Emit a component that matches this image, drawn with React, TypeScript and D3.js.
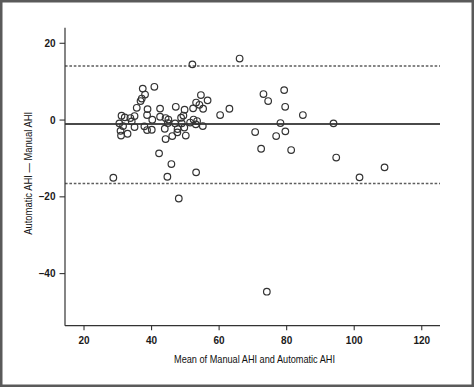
import React from "react";
import * as d3 from "d3";

const meanAHI: number[] = [
  30.46, 31.11, 32.06, 33.72, 34.96, 31.56, 34.13, 34.96, 30.81, 32.89, 30.96, 35.61,
  37.39, 38.07, 37.10, 36.74, 38.81, 38.67, 37.87, 38.67, 40.06, 40.21, 40.83, 42.52,
  42.52, 44.15, 44.98, 44.83, 43.91, 44.15, 46.13, 47.17, 46.96, 47.70, 47.64, 48.74,
  49.42, 48.95, 49.69, 49.78, 50.13, 51.41, 52.44, 53.48, 53.10, 55.17, 52.30, 53.19,
  54.16, 54.61, 55.26, 56.59, 52.09, 66.07, 60.30, 63.05, 45.87, 42.22, 44.68, 53.19,
  48.06, 28.68, 74.13, 70.67, 72.44, 73.13, 74.52, 76.89, 78.16, 79.26, 79.56, 79.61,
  81.33, 84.80, 93.87, 94.67, 101.57, 108.98,
];
const diffAHI: number[] = [
  -0.86, 1.12, 0.70, 0.52, 1.04, -1.56, -0.34, -1.82, -2.81, -3.57, -4.04, 3.20,
  8.20, 6.64, 5.60, 4.95, 2.86, 1.30, -1.64, -2.60, -2.53, 0.08, 8.67, 2.99,
  0.86, 0.52, 0.13, -0.78, -2.27, -4.95, -4.17, 3.46, -0.86, -2.34, -3.20, 0.60,
  1.17, -0.86, -1.95, 2.68, -4.04, -0.65, 0.13, -0.26, -1.12, -1.56, 3.05, 4.56,
  3.98, 6.51, 2.94, 5.13, 14.51, 16.02, 1.30, 2.94, -11.46, -8.67, -14.77, -13.62,
  -20.44, -15.03, -44.71, -3.13, -7.47, 6.77, 4.95, -4.17, -0.78, 7.81, 3.46, -2.94,
  -7.81, 1.30, -0.86, -9.77, -14.92, -12.32,
];
const meanDiff = -1.04;
const limitsOfAgreement: number[] = [14.06, -16.5];
const xTicks: number[] = [20, 40, 60, 80, 100, 120];
const yTicks: number[] = [20, 0, -20, -40];
const xLabel = "Mean of Manual AHI and Automatic AHI";
const yLabel = "Automatic AHI \u2014 Manual AHI";

const W = 474;
const H = 387;

export default function App() {
  const x = d3.scaleLinear().domain([14.37, 125.4]).range([65, 440]);
  const y = d3.scaleLinear().domain([24.06, -53.57]).range([27.7, 325.7]);
  const fmt = d3.format("");
  const font = "'Liberation Sans', Arial, sans-serif";
  const points = meanAHI.map((m, i) => ({ m, d: diffAHI[i] }));
  const [x0, x1] = x.range();
  const [yTop, yBot] = y.range();

  return (
    <svg
      width={W}
      height={H}
      style={{ position: "absolute", left: 0, top: 0, background: "#fff" }}
    >
      <rect x={1.25} y={1.25} width={W - 2.5} height={H - 2.5} fill="#fff" stroke="#5a5a5a" strokeWidth={2.5} />

      {limitsOfAgreement.map((v, i) => (
        <line
          key={"loa" + i}
          x1={x0}
          x2={x1}
          y1={y(v)}
          y2={y(v)}
          stroke="#5e5e5e"
          strokeWidth={1.5}
          strokeDasharray="2.6,1.8"
        />
      ))}
      <line x1={x0} x2={x1} y1={y(meanDiff)} y2={y(meanDiff)} stroke="#4a4a4a" strokeWidth={1.9} />

      {points.map((p, i) => (
        <circle
          key={i}
          cx={x(p.m)}
          cy={y(p.d)}
          r={3.3}
          fill="none"
          stroke="#333"
          strokeWidth={1.2}
        />
      ))}

      <line x1={x0} x2={x0} y1={yTop} y2={yBot} stroke="#333" strokeWidth={1.2} />
      <line x1={x0} x2={x1} y1={yBot} y2={yBot} stroke="#333" strokeWidth={1.2} />
      {yTicks.map((t) => (
        <g key={"yt" + t}>
          <line x1={x0 - 5.5} x2={x0} y1={y(t)} y2={y(t)} stroke="#333" strokeWidth={1.1} />
          <text
            x={x0 - 9.5}
            y={y(t)}
            dy="0.36em"
            textAnchor="end"
            fontFamily={font}
            fontSize={10}
            fontWeight="bold"
            fill="#1a1a1a"
          >
            {t < 0 ? "\u2013" + fmt(-t) : fmt(t)}
          </text>
        </g>
      ))}
      {xTicks.map((t) => (
        <g key={"xt" + t}>
          <line x1={x(t)} x2={x(t)} y1={yBot} y2={yBot + 4.5} stroke="#333" strokeWidth={1.1} />
          <text
            x={x(t)}
            y={344.3}
            textAnchor="middle"
            fontFamily={font}
            fontSize={10}
            fontWeight="bold"
            fill="#1a1a1a"
          >
            {fmt(t)}
          </text>
        </g>
      ))}

      <text
        x={254.5}
        y={362.5}
        textAnchor="middle"
        fontFamily={font}
        fontSize={11.5}
        fill="#111"
        textLength={161}
        lengthAdjust="spacingAndGlyphs"
      >
        {xLabel}
      </text>
      <text
        transform={`translate(32.3,173.3) rotate(-90)`}
        textAnchor="middle"
        fontFamily={font}
        fontSize={11.5}
        fill="#111"
        textLength={123}
        lengthAdjust="spacingAndGlyphs"
      >
        {yLabel}
      </text>
    </svg>
  );
}
